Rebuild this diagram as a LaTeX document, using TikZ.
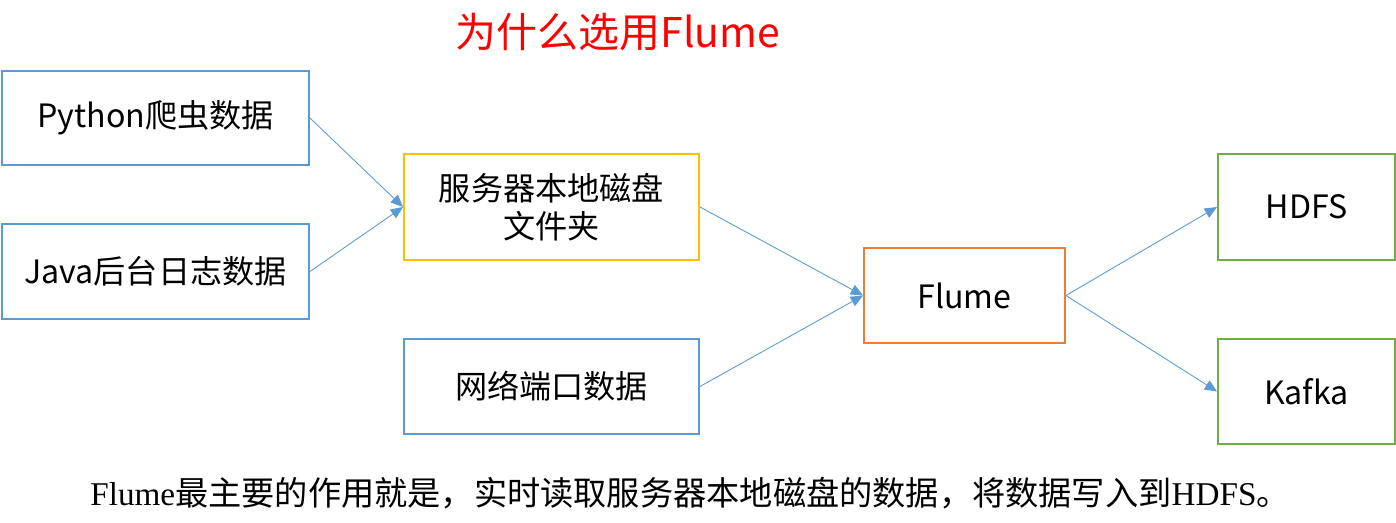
\documentclass[tikz,border=0pt]{standalone}
\usepackage{fontspec}
\setmainfont{Liberation Serif}
\newfontfamily\cjk{Noto Sans CJK SC}
\usepackage{tikz}
\usetikzlibrary{arrows.meta}
\definecolor{blue500}{HTML}{5B9BD5}
\definecolor{amber500}{HTML}{FFC000}
\definecolor{orange500}{HTML}{ED7D31}
\definecolor{green500}{HTML}{70AD47}
\definecolor{red500}{HTML}{FF0000}
\tikzstyle{caixa}=[rectangle, draw, line width=1.1pt, align=center, inner sep=0pt, font=\cjk\fontsize{18.3}{22}\selectfont]
\tikzstyle{seta}=[draw=blue500, line width=0.5pt, -{Triangle[length=7pt, width=6pt]}, blue500]

\begin{document}
\begin{tikzpicture}
	\useasboundingbox (0,0) rectangle (27.92,10.44);
	\node[text=red500, font=\cjk\fontsize{23.3}{27}\selectfont] (titulo) at (12.36,9.80) {为什么选用Flume};
	\node[caixa, draw=blue500, minimum width=6.14cm, minimum height=1.88cm] (python) at (3.11,8.08) {Python爬虫数据};
	\node[caixa, draw=blue500, minimum width=6.14cm, minimum height=1.90cm] (java) at (3.11,5.01) {Java后台日志数据};
	\node[caixa, draw=amber500, minimum width=5.90cm, minimum height=2.12cm] (disco) at (11.03,6.30) {服务器本地磁盘\\文件夹};
	\node[caixa, draw=blue500, minimum width=5.90cm, minimum height=1.90cm] (rede) at (11.03,2.71) {网络端口数据};
	\node[caixa, draw=orange500, minimum width=4.02cm, minimum height=1.90cm] (flume) at (19.29,4.53) {Flume};
	\node[caixa, draw=green500, minimum width=3.54cm, minimum height=2.12cm] (hdfs) at (26.13,6.30) {HDFS};
	\node[caixa, draw=green500, minimum width=3.54cm, minimum height=2.10cm] (kafka) at (26.13,2.61) {Kafka};
	\node[font=\fontsize{18.9}{22}\selectfont] (nota) at (13.8,0.58) {Flume{\cjk 最主要的作用就是，实时读取服务器本地磁盘的数据，将数据写入到}HDFS{\cjk 。}};
	\draw[seta] (python.east) -- (disco.west);
	\draw[seta] (java.east) -- (disco.west);
	\draw[seta] (disco.east) -- (flume.west);
	\draw[seta] (rede.east) -- (flume.west);
	\draw[seta] (flume.east) -- (hdfs.west);
	\draw[seta] (flume.east) -- (kafka.west);
\end{tikzpicture}
\end{document}
